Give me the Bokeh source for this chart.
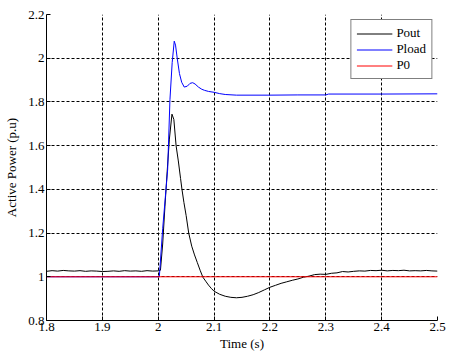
from bokeh.plotting import figure
from bokeh.embed import file_html
from bokeh.resources import INLINE
from bokeh.models import FixedTicker, Legend, LegendItem

# ---- data ----
t_out = [1.80, 1.81, 1.82, 1.83, 1.84, 1.85, 1.86, 1.87, 1.88, 1.89, 1.90, 1.91, 1.92, 1.93,
         1.94, 1.95, 1.96, 1.97, 1.98, 1.99, 2.000, 2.004, 2.008, 2.012, 2.016, 2.020, 2.0246,
         2.028, 2.032, 2.036, 2.040, 2.0425, 2.046, 2.050, 2.0546, 2.060, 2.065, 2.070, 2.075,
         2.080, 2.085, 2.090, 2.095, 2.100, 2.110, 2.120, 2.130, 2.140, 2.150, 2.160, 2.170,
         2.180, 2.190, 2.200, 2.210, 2.220, 2.230, 2.240, 2.250, 2.260, 2.270, 2.280, 2.290,
         2.300, 2.310, 2.320, 2.330, 2.340, 2.350, 2.360, 2.370, 2.380, 2.390, 2.400, 2.410,
         2.420, 2.430, 2.440, 2.450, 2.460, 2.470, 2.480, 2.490, 2.500]
p_out = [1.025, 1.028, 1.026, 1.029, 1.027, 1.026, 1.028, 1.025, 1.027, 1.026, 1.024, 1.025,
         1.027, 1.025, 1.028, 1.026, 1.027, 1.025, 1.028, 1.026, 1.027, 1.030, 1.150, 1.320,
         1.480, 1.630, 1.744, 1.720, 1.600, 1.530, 1.450, 1.400, 1.340, 1.280, 1.200, 1.140,
         1.100, 1.065, 1.030, 0.998, 0.980, 0.962, 0.947, 0.934, 0.920, 0.911, 0.906, 0.904,
         0.906, 0.911, 0.918, 0.928, 0.940, 0.952, 0.961, 0.970, 0.977, 0.984, 0.990, 0.998,
         1.003, 1.010, 1.012, 1.011, 1.016, 1.018, 1.024, 1.022, 1.025, 1.027, 1.026, 1.029,
         1.028, 1.030, 1.027, 1.029, 1.028, 1.030, 1.027, 1.028, 1.027, 1.029, 1.027, 1.026]

t_load = [1.80, 2.000, 2.002, 2.008, 2.0169, 2.021, 2.025, 2.0287, 2.031, 2.034, 2.038, 2.042,
          2.0466, 2.052, 2.057, 2.0617, 2.066, 2.072, 2.078, 2.083, 2.090, 2.100, 2.110, 2.120,
          2.140, 2.200, 2.250, 2.300, 2.305, 2.400, 2.500]
p_load = [1.000, 1.000, 1.000, 1.220, 1.490, 1.810, 1.980, 2.078, 2.060, 2.000, 1.930, 1.890,
          1.868, 1.872, 1.885, 1.888, 1.882, 1.868, 1.858, 1.853, 1.848, 1.844, 1.838, 1.834,
          1.831, 1.831, 1.832, 1.832, 1.836, 1.836, 1.837]

t_p0 = [1.80, 2.50]
p_0 = [1.0, 1.0]

x_ticks = [1.8, 1.9, 2.0, 2.1, 2.2, 2.3, 2.4, 2.5]
y_ticks = [0.8, 1.0, 1.2, 1.4, 1.6, 1.8, 2.0, 2.2]
x_tick_labels = {1.8: "1.8", 1.9: "1.9", 2.0: "2", 2.1: "2.1", 2.2: "2.2", 2.3: "2.3", 2.4: "2.4", 2.5: "2.5"}
y_tick_labels = {0.8: "0.8", 1.0: "1", 1.2: "1.2", 1.4: "1.4", 1.6: "1.6", 1.8: "1.8", 2.0: "2", 2.2: "2.2"}

FONT = "Liberation Serif"

p = figure(width=474, height=353, output_backend="svg", toolbar_location=None,
           x_range=(1.8, 2.5), y_range=(0.8, 2.2),
           min_border_left=46, min_border_right=37, min_border_top=14, min_border_bottom=32)
p.outline_line_color = None
p.background_fill_color = "white"
p.border_fill_color = "white"

r_out = p.line(t_out, p_out, line_color="black", line_width=1)
r_load = p.line(t_load, p_load, line_color="#0000ff", line_width=1)
r_p0 = p.line(t_p0, p_0, line_color="#ff0000", line_width=1)

for ax, ticks, labels in ((p.xaxis[0], x_ticks, x_tick_labels), (p.yaxis[0], y_ticks, y_tick_labels)):
    ax.ticker = FixedTicker(ticks=ticks)
    ax.major_label_overrides = labels
    ax.major_tick_in = 4
    ax.major_tick_out = 0
    ax.minor_tick_line_color = None
    ax.axis_line_color = "black"
    ax.major_tick_line_color = "black"
    ax.major_label_text_font = FONT
    ax.major_label_text_font_size = "13px"
    ax.major_label_text_color = "black"
    ax.axis_label_text_font = FONT
    ax.axis_label_text_font_size = "13px"
    ax.axis_label_text_font_style = "normal"
    ax.axis_label_text_color = "black"
    ax.major_label_standoff = 2

p.xaxis[0].axis_label = "Time (s)"
p.yaxis[0].axis_label = "Active Power (p.u)"
p.xaxis[0].axis_label_standoff = 2
p.yaxis[0].axis_label_standoff = 6

for g, ticks in ((p.xgrid[0], x_ticks), (p.ygrid[0], y_ticks)):
    g.ticker = FixedTicker(ticks=ticks)
    g.grid_line_color = "black"
    g.grid_line_dash = "3 2"
    g.grid_line_width = 1
    g.grid_line_alpha = 1.0

legend = Legend(items=[LegendItem(label="Pout", renderers=[r_out]),
                       LegendItem(label="Pload", renderers=[r_load]),
                       LegendItem(label="P0", renderers=[r_p0])],
                location="top_right", margin=5, padding=5, spacing=0,
                glyph_width=36, glyph_height=15, label_height=15, label_standoff=4,
                label_text_font=FONT, label_text_font_size="13px", label_text_color="black",
                border_line_color="black", border_line_width=1, background_fill_color="white",
                background_fill_alpha=1.0)
p.add_layout(legend)

open("out.html", "w").write(file_html(p, INLINE))
